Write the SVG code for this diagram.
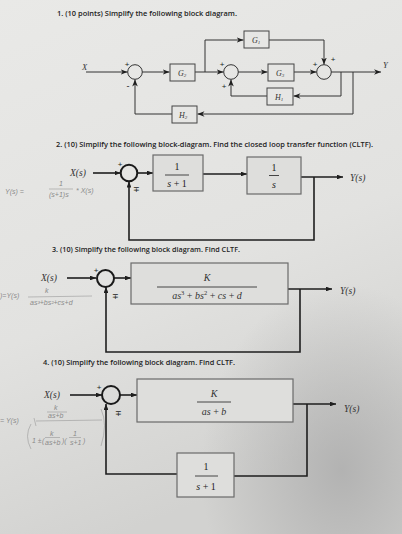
<svg xmlns="http://www.w3.org/2000/svg" width="402" height="534" viewBox="0 0 402 534">
<defs>
<linearGradient id="bg" x1="0" y1="0" x2="0.3" y2="1">
<stop offset="0" stop-color="#e9e9e7"/>
<stop offset="0.6" stop-color="#e2e2e0"/>
<stop offset="1" stop-color="#d2d2d0"/>
</linearGradient>
<radialGradient id="sh" cx="0.85" cy="0.88" r="0.35">
<stop offset="0" stop-color="#a8a8a8" stop-opacity="0.75"/>
<stop offset="1" stop-color="#a8a8a8" stop-opacity="0"/>
</radialGradient>
<marker id="a" viewBox="0 0 10 8" refX="10" refY="4" markerWidth="7" markerHeight="5.6" orient="auto" markerUnits="userSpaceOnUse">
<path d="M0,0 L10,4 L0,8 L3,4 Z" fill="#1e1e1e"/>
</marker>
<marker id="b" viewBox="0 0 10 8" refX="10" refY="4" markerWidth="6" markerHeight="4.8" orient="auto" markerUnits="userSpaceOnUse">
<path d="M0,0 L10,4 L0,8 Z" fill="#1e1e1e"/>
</marker>
<style>
.t{font-family:"Open Sans","Liberation Sans",sans-serif;font-weight:600;font-size:7.3px;fill:#222}
.m{font-family:"Liberation Serif","DejaVu Serif",serif;font-style:italic;fill:#333}
.n{font-family:"Liberation Serif","DejaVu Serif",serif;fill:#222;text-anchor:middle}
.sg{font-family:"Liberation Sans",sans-serif;fill:#222;text-anchor:middle}
.w1{fill:none;stroke:#333;stroke-width:1}
.w2{fill:none;stroke:#1e1e1e;stroke-width:1.6}
.bx1{fill:#e6e6e4;stroke:#444;stroke-width:1}
.bx2{fill:#dededc;stroke:#6a6a6a;stroke-width:1.2}
.c1{fill:none;stroke:#333;stroke-width:1}
.c2{fill:none;stroke:#1a1a1a;stroke-width:2}
.fl{stroke:#333;stroke-width:0.9}
.h{font-family:"Liberation Sans","DejaVu Sans",sans-serif;font-style:italic;fill:#8a8a8a;font-size:7px}
.hl{stroke:#999;stroke-width:0.6;fill:none}
</style>
</defs>
<rect width="402" height="534" fill="url(#bg)"/>
<rect width="402" height="534" fill="url(#sh)"/>

<!-- Problem 1 -->
<text class="t" x="57" y="16" textLength="180" lengthAdjust="spacingAndGlyphs">1.  (10 points) Simplify the following block diagram.</text>
<g id="connectors1">
<path class="w1" d="M86,72 H127.5" marker-end="url(#a)"/>
<path class="w1" d="M142.3,72 H169.5" marker-end="url(#a)"/>
<path class="w1" d="M195,72 H223.5" marker-end="url(#a)"/>
<path class="w1" d="M205,72 V40 H243.5" marker-end="url(#a)"/>
<path class="w1" d="M238.3,72 H267.5" marker-end="url(#a)"/>
<path class="w1" d="M294,72 H316.5" marker-end="url(#a)"/>
<path class="w1" d="M269,40 H324 V64.5" marker-end="url(#a)"/>
<path class="w1" d="M331.3,72 H381" marker-end="url(#a)"/>
<path class="w1" d="M341,72 V96 H293.5" marker-end="url(#a)"/>
<path class="w1" d="M267,96 H231 V79.5" marker-end="url(#a)"/>
<path class="w1" d="M353,72 V114 H197.5" marker-end="url(#a)"/>
<path class="w1" d="M172,114 H135 V79.5" marker-end="url(#a)"/>
</g>
<text class="m" x="82" y="70" font-size="8.5">X</text>
<text class="m" x="383" y="68" font-size="8.5">Y</text>
<g id="sum1"><circle class="c1" cx="135" cy="72" r="7.3"/><text class="sg" x="127" y="67" font-size="8">+</text><text class="sg" x="128" y="89" font-size="9">-</text></g>
<g id="sum2"><circle class="c1" cx="231" cy="72" r="7.3"/><text class="sg" x="222" y="67" font-size="8">+</text><text class="sg" x="224" y="89" font-size="8">+</text></g>
<g id="sum3"><circle class="c1" cx="324" cy="72" r="7.3"/><text class="sg" x="315" y="67" font-size="8">+</text><text class="sg" x="333" y="62" font-size="8">+</text></g>
<g id="G1"><rect class="bx1" x="244" y="31" width="25" height="17"/><text class="m" x="252" y="42.5" font-size="8">G<tspan font-size="5" dy="1.5">1</tspan></text></g>
<g id="G2"><rect class="bx1" x="170" y="64" width="25" height="17"/><text class="m" x="178" y="75.5" font-size="8">G<tspan font-size="5" dy="1.5">2</tspan></text></g>
<g id="G3"><rect class="bx1" x="268" y="64" width="26" height="17"/><text class="m" x="276" y="75.5" font-size="8">G<tspan font-size="5" dy="1.5">3</tspan></text></g>
<g id="H1"><rect class="bx1" x="267" y="88" width="26" height="17"/><text class="m" x="275" y="99.5" font-size="8">H<tspan font-size="5" dy="1.5">1</tspan></text></g>
<g id="H2"><rect class="bx1" x="172" y="106" width="25" height="17"/><text class="m" x="179" y="117.5" font-size="8">H<tspan font-size="5" dy="1.5">2</tspan></text></g>

<!-- Problem 2 -->
<text class="t" x="56" y="147" textLength="317" lengthAdjust="spacingAndGlyphs">2.  (10) Simplify the following block-diagram. Find the closed loop transfer function (CLTF).</text>
<g id="connectors2">
<path class="w2" d="M93,173 H120.5" marker-end="url(#b)"/>
<path class="w2" d="M137.5,173 H153" marker-end="url(#b)"/>
<path class="w2" d="M203,174 H247" marker-end="url(#b)"/>
<path class="w2" d="M301,177 H343" marker-end="url(#b)"/>
<path class="w2" d="M314,177 V240 H129 V181.5" marker-end="url(#b)"/>
</g>
<text class="m" x="70" y="176" font-size="9.5">X(s)</text>
<text class="m" x="350" y="181" font-size="9.5">Y(s)</text>
<g id="sum2a"><circle class="c2" cx="129" cy="173" r="8.3"/><text class="sg" x="120" y="167" font-size="8">+</text><text class="sg" x="136" y="192" font-size="8">∓</text></g>
<g id="b2a"><rect class="bx2" x="153" y="155" width="50" height="36"/><text class="n" x="177" y="170" font-size="10">1</text><line class="fl" x1="165" y1="175" x2="189" y2="175"/><text class="n" x="177" y="187" font-size="10"><tspan font-style="italic">s</tspan> + 1</text></g>
<g id="b2b"><rect class="bx2" x="247" y="157" width="54" height="37"/><text class="n" x="274" y="171" font-size="10">1</text><line class="fl" x1="269" y1="175.5" x2="279" y2="175.5"/><text class="n" x="274" y="188" font-size="10" font-style="italic">s</text></g>
<g id="hw2">
<text class="h" x="5" y="194">Y(s) =</text>
<text class="h" x="59" y="186" font-size="6">1</text>
<line class="hl" x1="49" y1="189" x2="73" y2="189"/>
<text class="h" x="49" y="197" font-size="6">(s+1)s</text>
<text class="h" x="76" y="193">* X(s)</text>
</g>

<!-- Problem 3 -->
<text class="t" x="52" y="252" textLength="188" lengthAdjust="spacingAndGlyphs">3.  (10) Simplify the following block diagram. Find CLTF.</text>
<g id="connectors3">
<path class="w2" d="M67,278 H96" marker-end="url(#b)"/>
<path class="w2" d="M114,278 H131" marker-end="url(#b)"/>
<path class="w2" d="M288,289 H332" marker-end="url(#b)"/>
<path class="w2" d="M300,289 V352 H106 V287" marker-end="url(#b)"/>
</g>
<text class="m" x="41" y="281" font-size="9.5">X(s)</text>
<text class="m" x="340" y="294" font-size="9.5">Y(s)</text>
<g id="sum3a"><circle class="c2" cx="105.5" cy="278.5" r="8.5"/><text class="sg" x="96" y="273" font-size="8">+</text><text class="sg" x="115" y="299" font-size="8">∓</text></g>
<g id="b3"><rect class="bx2" x="131" y="263" width="157" height="41"/><text class="m" x="207" y="281" font-size="10" text-anchor="middle">K</text><line class="fl" x1="157" y1="287" x2="257" y2="287"/><text class="m" x="207" y="299" font-size="10" text-anchor="middle">as<tspan font-style="normal" font-size="6.5" dy="-4">3</tspan><tspan dy="4"> </tspan><tspan font-style="normal">+</tspan> bs<tspan font-style="normal" font-size="6.5" dy="-4">2</tspan><tspan dy="4"> </tspan><tspan font-style="normal">+</tspan> cs <tspan font-style="normal">+</tspan> d</text></g>
<g id="hw3">
<text class="h" x="0" y="298">)=Y(s)</text>
<text class="h" x="45" y="293" font-size="6">k</text>
<line class="hl" x1="28" y1="297" x2="92" y2="296"/>
<text class="h" x="30" y="305" font-size="6">as³+bs²+cs+d</text>
</g>

<!-- Problem 4 -->
<text class="t" x="43" y="365" textLength="192" lengthAdjust="spacingAndGlyphs">4.  (10) Simplify the following block diagram. Find CLTF.</text>
<g id="connectors4">
<path class="w2" d="M70,395 H102" marker-end="url(#b)"/>
<path class="w2" d="M120,395 H137" marker-end="url(#b)"/>
<path class="w2" d="M293,404 H336" marker-end="url(#b)"/>
<path class="w2" d="M307,404 V476 H234"/>
<path class="w2" d="M177,474 H106 V404" marker-end="url(#b)"/>
</g>
<text class="m" x="44" y="398" font-size="9.5">X(s)</text>
<text class="m" x="344" y="412" font-size="9.5">Y(s)</text>
<g id="sum4"><circle class="c2" cx="111" cy="395" r="9"/><text class="sg" x="99" y="390" font-size="8">+</text><text class="sg" x="118" y="416" font-size="8">∓</text></g>
<g id="b4"><rect class="bx2" x="137" y="379" width="156" height="43"/><text class="m" x="214" y="397" font-size="10" text-anchor="middle">K</text><line class="fl" x1="197" y1="402" x2="231" y2="402"/><text class="m" x="214" y="415" font-size="10" text-anchor="middle">as <tspan font-style="normal">+</tspan> b</text></g>
<g id="b4f"><rect class="bx2" x="177" y="453" width="57" height="44"/><text class="n" x="206" y="470" font-size="10">1</text><line class="fl" x1="195" y1="476" x2="218" y2="476"/><text class="n" x="206" y="490" font-size="10"><tspan font-style="italic">s</tspan> + 1</text></g>
<g id="hw4">
<text class="h" x="0" y="423">= Y(s)</text>
<path class="hl" d="M36,426 L34,418"/>
<text class="h" x="54" y="410" font-size="6">k</text>
<line class="hl" x1="47" y1="412" x2="67" y2="412"/>
<text class="h" x="48" y="418" font-size="6">as+b</text>
<line class="hl" x1="36" y1="421" x2="102" y2="420"/>
<path class="hl" d="M31,424 Q24,436 31,449"/>
<path class="hl" d="M101,409 Q108,424 101,446"/>
<text class="h" x="32" y="443" font-size="6">1 ±</text>
<text class="h" x="42" y="443" font-size="6">(</text>
<text class="h" x="50" y="435.5" font-size="5.5">k</text>
<line class="hl" x1="45" y1="437.5" x2="60" y2="437.5"/>
<text class="h" x="45" y="445" font-size="5.5">as+b</text>
<text class="h" x="62" y="443" font-size="6">)(</text>
<text class="h" x="73" y="435.5" font-size="5.5">1</text>
<line class="hl" x1="69" y1="437.5" x2="81" y2="437.5"/>
<text class="h" x="70" y="445" font-size="5.5">s+1</text>
<text class="h" x="83" y="443" font-size="6">)</text>
</g>
</svg>
